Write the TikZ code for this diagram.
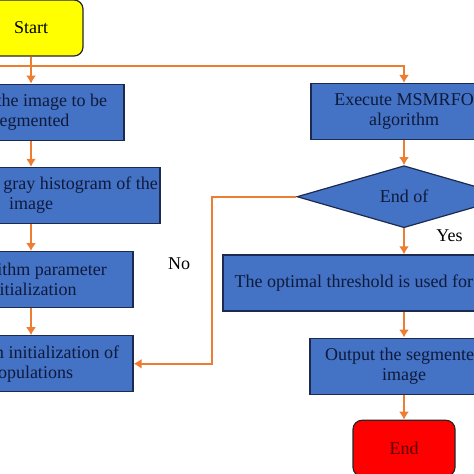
\documentclass[tikz,border=0pt]{standalone}
\usepackage{fontspec}
\setmainfont{Liberation Serif}
\usetikzlibrary{positioning,shapes.geometric,arrows.meta}
\definecolor{fcblue}{HTML}{4472C4}
\definecolor{fcedge}{HTML}{1B2A4E}
\definecolor{fctext}{HTML}{0E1A3C}
\definecolor{fcorange}{HTML}{ED7D31}
\definecolor{fcyellow}{HTML}{FFFF00}
\definecolor{fcred}{HTML}{FF0000}
\tikzset{
  proc/.style={draw=fcedge,fill=fcblue,text=fctext,line width=1.2pt,minimum height=56pt,inner sep=2pt,align=center,font=\fontsize{18}{20}\selectfont},
  term/.style={proc,rounded corners=9pt,draw=black!85,text=black},
  decide/.style={proc,diamond,aspect=3.5,inner sep=0pt,minimum width=214pt,minimum height=62pt},
  flow/.style={-{Latex[length=8pt,width=10pt]},line width=2pt,draw=fcorange},
  lbl/.style={font=\fontsize{18}{20}\selectfont},
}
\begin{document}
\begin{tikzpicture}[x=1pt,y=1pt,node distance=27pt]
  \clip (0,0) rectangle (474,-474);
  % left column
  \node[term,fill=fcyellow,minimum width=104pt] (start) at (31,-28) {Start};
  \node[proc,minimum width=186pt,below=of start] (read) {Read the image to be\\segmented};
  \node[proc,minimum width=258pt,below=26pt of read] (hist) {Calculate the gray histogram of the\\image};
  \node[proc,minimum width=204pt,below=of hist] (param) {Algorithm parameter\\initialization};
  \node[proc,minimum width=204pt,below=of param] (popu) {Random initialization of\\populations};
  \coordinate[below=9pt of start.south] (split);

  % right column
  \node[proc,minimum width=186pt] (exec) at (404,-111.5) {Execute MSMRFO\\algorithm};
  \node[decide,below=25pt of exec] (check) {End of};
  \node[proc,minimum width=362pt,below=26pt of check] (thresh) {The optimal threshold is used for segmentation};
  \node[proc,minimum width=188pt,below=26pt of thresh] (output) {Output the segmented\\image};
  \node[term,fill=fcred,text=red!35!black,minimum width=102pt,below=25pt of output] (stop) {End};

  \draw[flow] (start)--(read); \draw[flow] (read)--(hist);
  \draw[flow] (hist)--(param); \draw[flow] (param)--(popu);
  \draw[flow] (popu.west) -- ++(-20,0) |- (split) -| (exec.north);
  \draw[flow] (exec)--(check);
  \draw[flow] (check)--(thresh) node[lbl,pos=0.3,right=28pt] {Yes};
  \draw[flow] (check.west) -- ++(-84,0) |- node[lbl,pos=0.2,left=18pt] {No} (popu.east);
  \draw[flow] (thresh)--(output); \draw[flow] (output)--(stop);
\end{tikzpicture}
\end{document}
